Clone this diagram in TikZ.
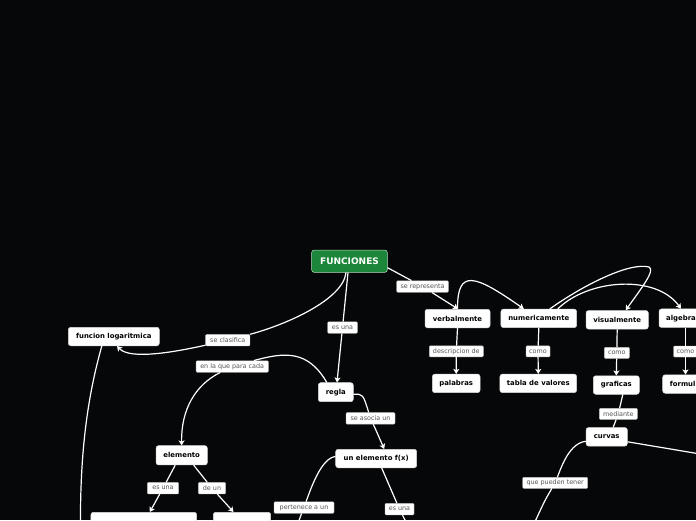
\documentclass[tikz,border=0pt]{standalone}
\usepackage{fontspec}
\newfontfamily\dvs{DejaVu Sans}
\usetikzlibrary{arrows.meta}
\definecolor{bg}{RGB}{6,7,9}
\definecolor{fgreen}{RGB}{28,134,58}
\definecolor{lbltext}{RGB}{85,85,85}
\begin{document}
\begin{tikzpicture}[x=1pt,y=-1pt,
  box/.style={draw=white!85!black, line width=0.5pt, fill=white, rounded corners=2.5pt, inner sep=0pt, minimum height=18.5pt, font=\dvs\bfseries\fontsize{6.9}{8}\selectfont, text=black},
  lbl/.style={draw=black!25, line width=0.4pt, fill=white, rounded corners=1pt, inner sep=0pt, minimum height=11.5pt, font=\dvs\fontsize{6.4}{7}\selectfont, text=lbltext},
  conn/.style={draw=white, line width=1.2pt},
  arr/.style={conn, -{Stealth[length=5pt,width=6pt,inset=1.2pt]}},
]
\useasboundingbox (0,0) rectangle (696,520);
\fill[bg] (0,0) rectangle (696,520);
\clip (0,0) rectangle (696,520);

% main nodes
\node[box, fill=fgreen, draw=white!70!fgreen, text=white, minimum width=75.6pt, minimum height=22.3pt, font=\dvs\bfseries\fontsize{9}{10}\selectfont] (FUN) at (349.5,261.2) {FUNCIONES};
\node[box, minimum width=65pt] (verbal) at (457.5,318.5) {verbalmente};
\node[box, minimum width=75.7pt] (numer) at (538.8,318.4) {numericamente};
\node[box, minimum width=62.3pt] (visual) at (617.2,319.8) {visualmente};
\node[box, minimum width=44pt] (algebra) at (681,318.2) {algebra};
\node[box, minimum width=47.7pt] (palabras) at (456.2,383.4) {palabras};
\node[box, minimum width=76.7pt] (tabla) at (538.3,383.4) {tabla de valores};
\node[box, minimum width=46pt] (graficas) at (616.3,385) {graficas};
\node[box, minimum width=48.4pt, text width=34pt, align=left] (formul) at (686.9,384) {formul};
\node[box, minimum width=91pt] (funclog) at (113.8,336.5) {funcion logaritmica};
\node[box, minimum width=35pt, minimum height=19pt] (regla) at (335.8,392.2) {regla};
\node[box, minimum width=51.3pt, minimum height=19.3pt] (elemento) at (181.7,455.3) {elemento};
\node[box, minimum width=81pt] (unelem) at (376.2,458.5) {un elemento f(x)};
\node[box, minimum width=41.3pt] (curvas) at (606.7,436.8) {curvas};
\node[box, minimum width=105.7pt] (leftbox) at (143.8,521.5) {};
\node[box, minimum width=57.4pt] (rightbox) at (242,521.5) {};

% labels
\node[lbl, minimum width=51.6pt] (lrep) at (422.5,286.5) {se representa};
\node[lbl, minimum width=29.6pt] (les1) at (342.5,327.5) {es una};
\node[lbl, minimum width=44.3pt] (lclas) at (227.8,340.2) {se clasifica};
\node[lbl, minimum width=72.3pt] (lenla) at (232.2,366.5) {en la que para cada};
\node[lbl, minimum width=31.4pt] (les2) at (163,488.2) {es una};
\node[lbl, minimum width=27.4pt] (ldeun) at (212,488.2) {de un};
\node[lbl, minimum width=49pt] (lasoc) at (370.5,418.3) {se asocia un};
\node[lbl, minimum width=60pt] (lpert) at (304,507.5) {pertenece a un};
\node[lbl, minimum width=29pt] (les3) at (399.5,509.2) {es una};
\node[lbl, minimum width=54pt, minimum height=11pt] (ldesc) at (456.3,351.3) {descripcion de};
\node[lbl, minimum width=24pt, minimum height=11pt] (lcomo1) at (538,351.3) {como};
\node[lbl, minimum width=25pt, minimum height=11pt] (lcomo2) at (616.8,352.8) {como};
\node[lbl, minimum width=24pt, minimum height=11pt] (lcomo3) at (685.5,351.5) {como};
\node[lbl, minimum width=38pt, minimum height=11pt] (lmed) at (618.3,413.8) {mediante};
\node[lbl, minimum width=65pt, minimum height=11pt] (lque) at (555.2,482.8) {que pueden tener};

% free ends
\coordinate (offA) at (297,526);
\coordinate (offB) at (408,526);
\coordinate (offC) at (80.5,526);
\coordinate (offD) at (702,454.3);
\coordinate (offE) at (533,526);

% connectors
\draw[arr] ([yshift=-6.5pt]FUN.east) -- (lrep) -- ([xshift=0.5pt]verbal.north);
\draw[arr] ([yshift=0.5pt]verbal.north) .. controls (457.5,269) and (474,274) .. ([xshift=-15pt]numer.north);
\draw[arr] ([xshift=11pt]numer.north) .. controls (585,284) and (630,262) .. (649,267) .. controls (656,270) and (640,290) .. ([xshift=8.5pt]visual.north);
\draw[arr] ([xshift=19pt]numer.north) .. controls (588,279) and (656,274) .. (algebra.north);
\draw[arr] ([xshift=-3.5pt]FUN.south) .. controls (343,300) and (285,325) .. (lclas) .. controls (175,352) and (130,360) .. ([xshift=3.2pt]funclog.south);
\draw[arr] ([xshift=-1.5pt]FUN.south) -- (les1) -- ([xshift=1.2pt]regla.north);
\draw[arr] ([xshift=-9pt]regla.north) .. controls (308,350) and (285,352) .. (lenla) .. controls (195,385) and (181,410) .. (elemento.north);
\draw[arr] ([yshift=-2pt]regla.east) .. controls (363,394) .. (lasoc) .. controls (375,428) .. ([xshift=8pt]unelem.north);
\draw[conn] ([yshift=2pt]unelem.west) .. controls (322,458) and (312,485) .. (lpert) .. controls (301,515) .. (offA);
\draw[conn] ([xshift=5.5pt]unelem.south) -- (les3) -- (offB);
\draw[arr] ([xshift=-6.5pt]elemento.south) -- (les2) -- ([xshift=6pt]leftbox.north);
\draw[arr] ([xshift=12pt]elemento.south) -- (ldeun) -- ([xshift=-8.5pt]rightbox.north);
\draw[conn] ([xshift=-12pt]funclog.south) .. controls (88,395) and (80,450) .. (offC);
\draw[arr] (verbal.south) -- (ldesc) -- (palabras.north);
\draw[arr] (numer.south) -- (lcomo1) -- (tabla.north);
\draw[arr] (visual.south) -- (lcomo2) -- (graficas.north);
\draw[arr] ([xshift=4.5pt]algebra.south) -- (lcomo3) -- ([xshift=-1.4pt]formul.north);
\draw[conn] ([xshift=6.5pt]graficas.south) -- (lmed) -- ([xshift=6.5pt]curvas.north);
\draw[conn] ([yshift=-5pt]curvas.east) -- (offD);
\draw[conn] ([yshift=-4.5pt]curvas.west) .. controls (570,443) and (562,465) .. (lque) .. controls (545,500) .. (offE);
\end{tikzpicture}
\end{document}
